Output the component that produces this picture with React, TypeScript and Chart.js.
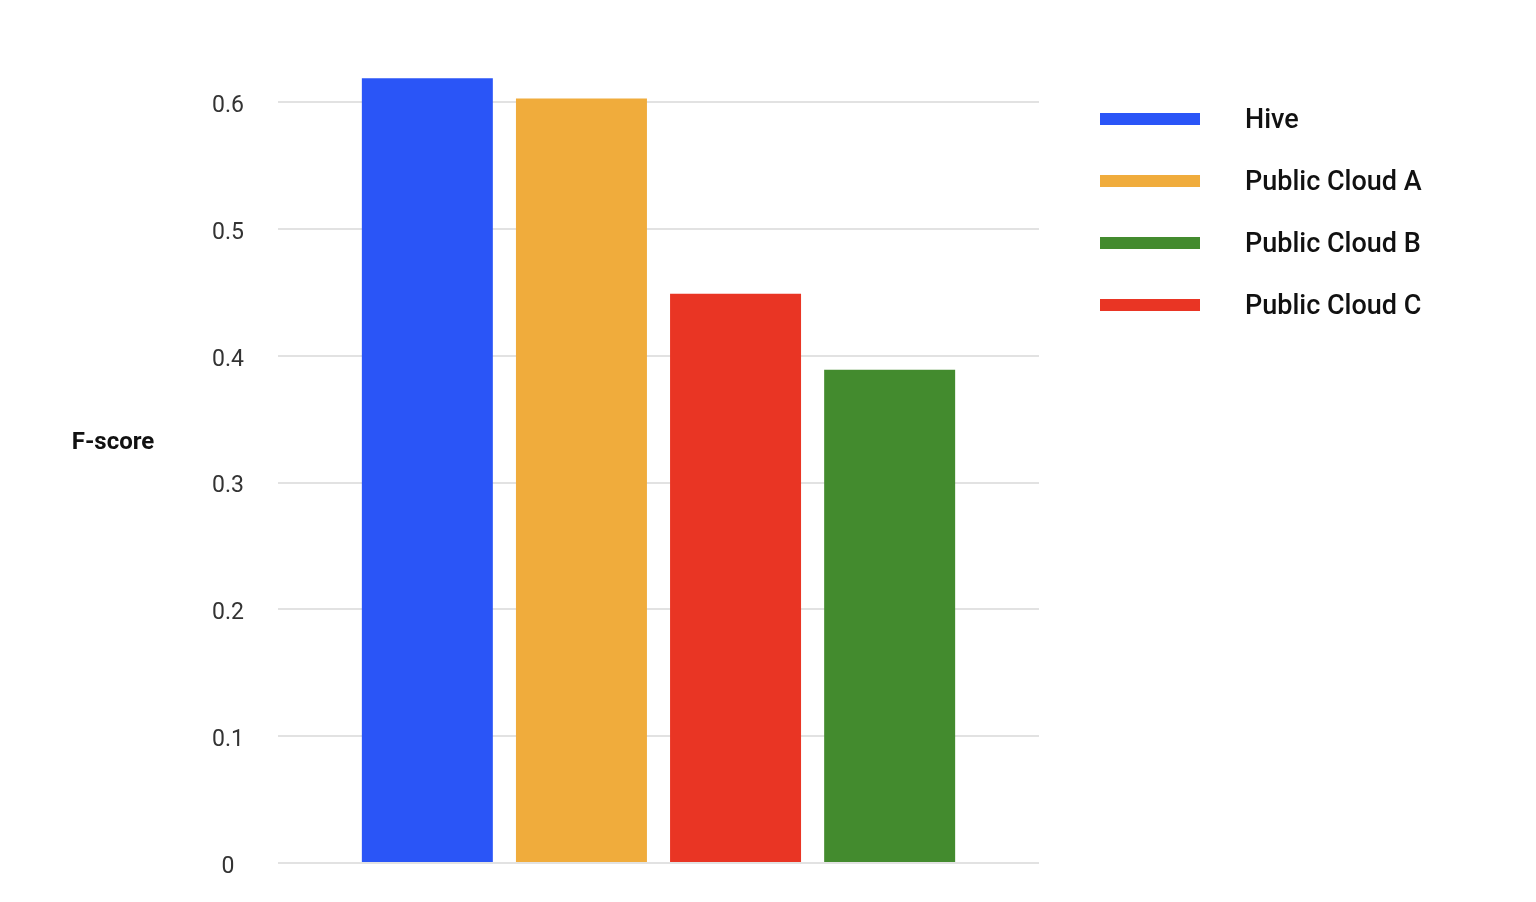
import { useEffect, useRef } from 'react'
import { Chart, registerables } from 'chart.js'

Chart.register(...registerables)

// bars in the order they stand on the chart
const seriesNames = ['Hive', 'Public Cloud A', 'Public Cloud C', 'Public Cloud B']
const fScores = [0.619, 0.603, 0.449, 0.389]
const seriesColors = ['#2a55f7', '#f0ac3c', '#e93524', '#438b2e']
// legend lists them alphabetically
const legendOrder = ['Hive', 'Public Cloud A', 'Public Cloud B', 'Public Cloud C']
const yTicks = [0, 0.1, 0.2, 0.3, 0.4, 0.5, 0.6]
const yTitle = 'F-score'

const font = 'Roboto, "Noto Sans", sans-serif'

const yTitlePlugin = {
  id: 'yTitle',
  afterDraw(chart: any) {
    const { ctx, chartArea } = chart
    ctx.save()
    ctx.font = `bold 24px ${font}`
    ctx.fillStyle = '#111'
    ctx.textAlign = 'center'
    ctx.textBaseline = 'middle'
    ctx.fillText(yTitle, 113, (chartArea.top + chartArea.bottom) / 2 - 8)
    ctx.restore()
  },
}

export default function App() {
  const canvasRef = useRef<HTMLCanvasElement | null>(null)

  useEffect(() => {
    if (!canvasRef.current) return
    const ctx = canvasRef.current.getContext('2d')
    if (!ctx) return

    const chart = new Chart(ctx, {
      type: 'bar',
      data: {
        labels: [''],
        datasets: seriesNames.map((name, i) => ({
          label: name,
          data: [fScores[i]],
          backgroundColor: seriesColors[i],
          borderWidth: 0,
          categoryPercentage: 0.81,
          barPercentage: 0.85,
        })),
      },
      options: {
        animation: false,
        responsive: true,
        maintainAspectRatio: false,
        layout: { padding: { top: 39, bottom: 39, left: 0, right: 497 } },
        plugins: {
          legend: { display: false },
          tooltip: { enabled: false },
        },
        scales: {
          x: { display: false },
          y: {
            min: 0,
            max: 0.65,
            border: { display: false },
            grid: { color: '#e2e2e2', lineWidth: 2, drawTicks: false },
            afterBuildTicks: (axis: any) => {
              axis.ticks = yTicks.map((v) => ({ value: v }))
            },
            afterFit: (axis: any) => {
              axis.width = 278
              axis.paddingTop = 0
              axis.paddingBottom = 0
            },
            ticks: {
              crossAlign: 'center',
              padding: 34,
              labelOffset: 4,
              color: '#333',
              font: { family: font, size: 23 },
              callback: (v: any) => String(Math.round(Number(v) * 10) / 10),
            },
          },
        },
      },
      plugins: [yTitlePlugin],
    })

    return () => chart.destroy()
  }, [])

  return (
    <div style={{ position: 'absolute', left: 0, top: 0, width: 1536, height: 902, background: '#fff' }}>
      <canvas ref={canvasRef}></canvas>
      <div style={{ position: 'absolute', left: 1100, top: 88, fontFamily: font }}>
        {legendOrder.map((name) => (
          <div key={name} style={{ display: 'flex', alignItems: 'center', height: 62 }}>
            <div style={{ width: 100, height: 12, background: seriesColors[seriesNames.indexOf(name)] }} />
            <span style={{ marginLeft: 45, fontSize: 27, fontWeight: 500, color: '#111' }}>{name}</span>
          </div>
        ))}
      </div>
    </div>
  )
}
